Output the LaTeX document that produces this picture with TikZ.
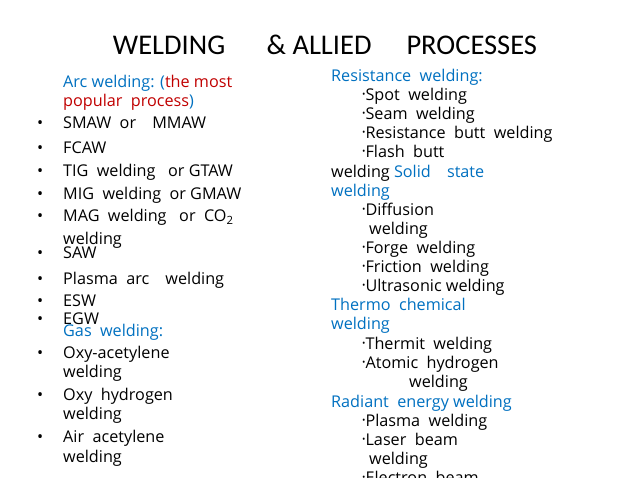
\documentclass[tikz,border=0pt]{standalone}
\usepackage{fontspec}
\setmainfont{Open Sans}
\newfontfamily\titlefont{Carlito}
\definecolor{bl}{RGB}{0,112,192}
\definecolor{rd}{RGB}{192,0,0}
\begin{document}
\begin{tikzpicture}[x=1pt,y=-1pt,t/.style={anchor=base west,inner sep=0pt,font=\fontsize{16.2}{19}\selectfont}]
\useasboundingbox (0,0) rectangle (638,478);
\clip (0,0) rectangle (638,478);
\node[anchor=base,inner sep=0pt,font=\titlefont\fontsize{28.5}{32}\selectfont] (title) at (325,55) {WELDING\quad\ \ \&\ ALLIED\quad\ PROCESSES};
\node[t,text=bl] (arc) at (63,88) {Arc welding: (\textcolor{rd}{the most}};
\node[t,text=rd] (arc2) at (63,107) {popular\ \ process\textcolor{bl}{)}};
\foreach \y/\s [count=\i] in {129/SMAW\ \ or\quad MMAW,154/FCAW,177/TIG\ \ welding\ \ \ or\ GTAW,200/MIG\ \ welding\ \ or\ GMAW,222/{MAG\ \ welding\ \ \ or\ \ CO\textsubscript{2}},259/SAW,285/Plasma\ \ arc\quad welding,307/ESW,325/EGW,359/Oxy-acetylene,401/Oxy\ \ hydrogen,443/Air\ \ acetylene}{
 \node[t] (b\i) at (37,\y) {•};
 \node[t] (l\i) at (63,\y) {\s};
}
\node[t] (w1) at (63,245) {welding};
\node[t,text=bl] (gas) at (63,337) {Gas\ \ welding:};
\node[t] (w2) at (63,378) {welding};
\node[t] (w3) at (63,420) {welding};
\node[t] (w4) at (63,463) {welding};
\node[t,text=bl] (res) at (331,82) {Resistance\ \ welding:};
\foreach \y/\s [count=\i] in {101/Spot\ \ welding,120/Seam\ \ welding,139/Resistance\ \ butt\ \ welding,158/Flash\ \ butt,216/Diffusion,254/Forge\ \ welding,273/Friction\ \ welding,292/Ultrasonic\ welding,350/Thermit\ \ welding,369/Atomic\ \ hydrogen,427/Plasma\ \ welding,446/Laser\ \ beam,484/Electron\ \ beam}{
 \node[t] (r\i) at (362,\y) {\raisebox{0.45ex}{\small•}\s};
}
\node[t] (ws) at (331,178) {welding \textcolor{bl}{Solid\quad state}};
\node[t,text=bl] (ws2) at (331,197) {welding};
\node[t] (rw1) at (369,235) {welding};
\node[t,text=bl] (th) at (331,311) {Thermo\ \ chemical};
\node[t,text=bl] (th2) at (331,330) {welding};
\node[t] (rw2) at (409,388) {welding};
\node[t,text=bl] (rad) at (331,408) {Radiant\ \ energy welding};
\node[t] (rw3) at (369,465) {welding};
\end{tikzpicture}
\end{document}
